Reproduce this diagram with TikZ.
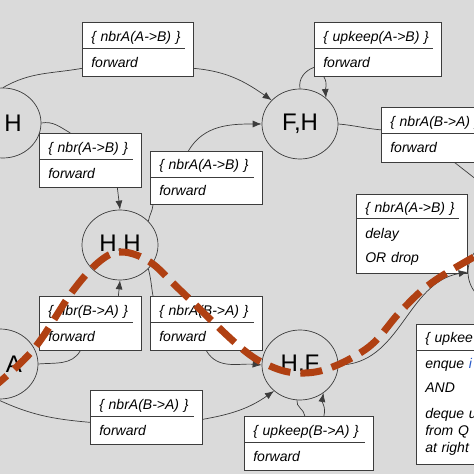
\documentclass[tikz,border=0pt]{standalone}
\usepackage{fontspec}
\setmainfont{Liberation Sans}
\usetikzlibrary{shapes.geometric,arrows.meta}
\definecolor{bggray}{RGB}{218,218,218}
\definecolor{linegray}{RGB}{60,60,60}
\definecolor{rust}{RGB}{176,64,18}
\definecolor{qblue}{RGB}{40,90,200}
\tikzset{
  place/.style={ellipse, draw=linegray, line width=0.7pt, minimum width=76pt, minimum height=70pt, inner sep=0pt, font=\fontsize{24}{28}\selectfont},
  msgbox/.style={draw=linegray, fill=white, line width=0.7pt, anchor=north west, minimum height=54pt, inner xsep=9pt, inner ysep=0pt, align=left, font=\fontsize{14}{17}\selectfont\itshape,
    path picture={\draw[linegray, line width=0.7pt] ([yshift=-#1]path picture bounding box.north west) -- ([xshift=-8pt,yshift=-#1]path picture bounding box.north east);}},
  msgbox/.default=26pt,
  link/.style={draw=linegray, line width=0.7pt},
  linkarr/.style={link, -{Latex[length=9pt,width=7pt]}},
  route/.style={rust, line width=7pt, dash pattern=on 22pt off 10pt},
}
\begin{document}
\begin{tikzpicture}[x=1pt,y=1pt]
  \useasboundingbox (0,0) rectangle (474,474);
  \fill[bggray] (0,0) rectangle (474,474);
  % states
  \node[place, label={[font=\fontsize{24}{28}\selectfont, xshift=10pt]center:H}] (nH) at (3,351) {};
  \node[place] (nFH) at (300,350) {F,H};
  \node[place] (nHH) at (120,229) {H,H};
  \node[place] (nHF) at (300,109) {H,F};
  \node[place, label={[font=\fontsize{24}{28}\selectfont, xshift=14pt]center:A}] (nA) at (0,110) {};
  \node[place] (nR) at (506,202) {};

  % message boxes
  \node[msgbox, text width=93pt] (bAB1) at (82,452) {\{ nbrA(A->B) \}\\[9pt]forward};
  \node[msgbox, text width=109pt] (bUpAB) at (314,452) {\{ upkeep(A->B) \}\\[9pt]forward};
  \node[msgbox, text width=93pt, minimum height=55pt] (bBA1) at (381,367) {\{ nbrA(B->A) \}\\[9pt]forward};
  \node[msgbox, text width=84pt] (bNbrAB) at (39,341) {\{ nbr(A->B) \}\\[9pt]forward};
  \node[msgbox, text width=94pt, minimum height=53pt] (bAB2) at (150,323) {\{ nbrA(A->B) \}\\[9pt]forward};
  \node[msgbox=24pt, text width=93pt, minimum height=79pt] (bDelay) at (356,280) {\{ nbrA(A->B) \}\\[9pt]delay\\[7pt]OR drop};
  \node[msgbox, text width=84pt] (bNbrBA) at (39,178) {\{ nbr(B->A) \}\\[9pt]forward};
  \node[msgbox, text width=94pt] (bBA2) at (150,178) {\{ nbrA(B->A) \}\\[9pt]forward};
  \node[msgbox, text width=94pt] (bBA3) at (90,84) {\{ nbrA(B->A) \}\\[9pt]forward};
  \node[msgbox, text width=111pt] (bUpBA) at (244,58) {\{ upkeep(B->A) \}\\[9pt]forward};
  \node[msgbox, text width=112pt, minimum height=140pt] (bQueue) at (416,150) {\{ upkee\\[9pt]enque \textcolor{qblue}{i}\\[7pt]AND\\[9pt]deque u\\from Q\\at right};

  % transitions
  \draw[link] (nH.north) to[out=30,in=190] ([yshift=-19pt]bAB1.west);
  \draw[linkarr] ([yshift=-19pt]bAB1.east) to[out=-5,in=145] (nFH.140);
  \draw[link] (nH.east) to[out=10,in=150] ([xshift=-20pt]bNbrAB.north);
  \draw[linkarr] ([xshift=27pt]bNbrAB.south) -- (nHH.north);
  \draw[link] (nHH.40) to[out=80,in=-95] ([xshift=3pt]bAB2.south west);
  \draw[linkarr] ([xshift=-18pt]bAB2.north) to[out=60,in=180] (nFH.west);
  \draw[link] (nFH.north) to[out=100,in=200] ([yshift=-18pt]bUpAB.west);
  \draw[linkarr] ([xshift=-54pt]bUpAB.south) to[out=-60,in=95] (nFH.45);
  \draw[link] (nFH.east) to[out=-5,in=175] ([yshift=5pt]bBA1.west);
  \coordinate (offR) at (500,276);
  \draw[link] ([xshift=18pt]bBA1.south) -- (offR);
  \draw[link] (nA.east) to[out=5,in=-120] ([xshift=-10pt]bNbrBA.south);
  \draw[linkarr] ([xshift=28pt]bNbrBA.north) -- (nHH.south);
  \draw[link] (nHH.-40) to[out=-75,in=100] ([xshift=3pt]bBA2.north west);
  \draw[linkarr] (bBA2.south) to[out=-60,in=175] (nHF.west);
  \draw[link] (nA.-95) to[out=-25,in=175] ([yshift=-5pt]bBA3.west);
  \draw[linkarr] ([yshift=-2pt]bBA3.east) to[out=10,in=-145] (nHF.-135);
  \draw[link] (nHF.-95) to[out=-100,in=95] ([xshift=-4pt]bUpBA.north);
  \draw[linkarr] ([xshift=15pt]bUpBA.north) to[out=75,in=-100] (nHF.-50);
  \draw[linkarr] (nHF.east) to[out=0,in=190] (nR.west);

  % route
  \draw[route] plot[smooth, tension=0.6] coordinates {(-10,84) (33,124) (72,182) (100,213) (122,222) (150,212) (180,184) (240,127) (270,108) (298,101) (330,106) (370,128) (400,162) (430,190) (474,217) (495,226)};
\end{tikzpicture}
\end{document}
